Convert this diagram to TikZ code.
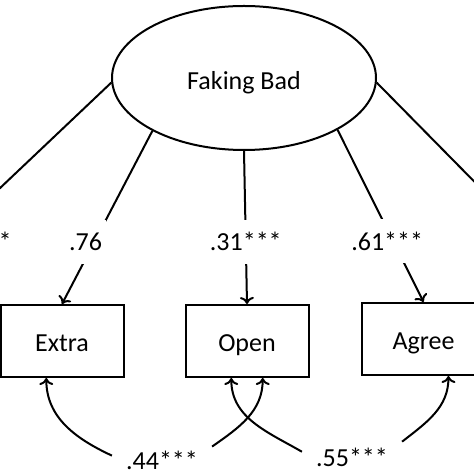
\documentclass[tikz,border=0pt]{standalone}
\usepackage{fontspec}
\setmainfont{Carlito}
\usetikzlibrary{shapes.geometric,arrows.meta}

\begin{document}
\begin{tikzpicture}[x=1pt, y=1pt,
    every node/.style={font=\fontsize{26}{31}\selectfont},
    line/.style={line width=2pt},
    arr/.style={line, -{To[length=7pt,width=14pt]}},
    latent/.style={ellipse, draw, line width=2pt, minimum width=264pt, minimum height=144pt, inner sep=0pt, text height=23pt, text depth=0pt},
    obs/.style={rectangle, draw, line width=2pt, minimum width=123pt, minimum height=72pt, text height=22pt, text depth=0pt},
    load/.style={fill=white, inner xsep=4pt, inner ysep=13pt, text height=18pt, text depth=0pt},
    corr/.style={inner sep=14pt, text height=18pt, text depth=0pt}]

    % Frame of the figure, which is cut at its borders
    \useasboundingbox (0,0) rectangle (474,474);
    \clip (0,0) rectangle (474,474);

    % Latent factor
    \node[latent] (fb) at (244,396) {Faking Bad};

    % Observed scales
    \node[obs] (ext) at (62,133) {Extra};
    \node[obs] (open) at (247,133) {Open};
    \node[obs] (agree) at (423.5,135) {Agree};

    % Loadings on the visible scales
    \draw[arr] (fb.210) -- node[load, pos=.64, xshift=-9pt] {.76} (ext.north);
    \draw[arr] (fb.south) -- node[load, pos=.594] {.31***} (open.north);
    \draw[arr] (fb.331) -- node[load, pos=.647, xshift=-6pt] {.61***} (agree.north);

    % Loadings that leave the frame
    \coordinate (offl) at (-40,248);
    \coordinate (offr) at (520,246);
    \draw[line] (fb.182) -- (offl);
    \draw[line] (fb.358) -- (offr);
    \node[anchor=base] (lcut) at (5,223) {*};

    % Correlations between the scales
    \node[corr] (c44) at (162,14) {.44***};
    \node[corr] (c55) at (352,17) {.55***};
    \draw[arr] (c44.175) to[out=155, in=-90] (ext.-113);
    \draw[arr] (c44.15) to[out=35, in=-90] (open.-67);
    \draw[arr] (c55.174) to[out=150, in=-90] (open.-113);
    \draw[arr] (c55.17) to[out=38, in=-90] (agree.-56);

\end{tikzpicture}
\end{document}
